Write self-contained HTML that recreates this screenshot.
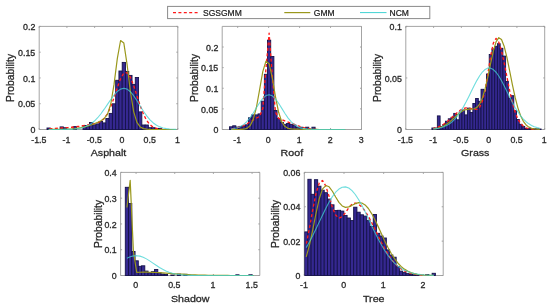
<!DOCTYPE html>
<html lang="en"><head><meta charset="utf-8"><title>Probability histograms</title>
<style>html,body{margin:0;padding:0;background:#fff;}svg{display:block;}</style></head>
<body>
<svg width="550" height="308" viewBox="0 0 550 308" font-family="'Liberation Sans', sans-serif">
<rect width="550" height="308" fill="#fff"/>
<g id="ax1">
<clipPath id="c0"><rect x="39.2" y="25.4" width="138.6" height="104.85"/></clipPath>
<path d="M39.2 26.4H177.8V129.5H39.2ZM39.2 129.5v-1.5M39.2 26.4v1.5M66.92 129.5v-1.5M66.92 26.4v1.5M94.64 129.5v-1.5M94.64 26.4v1.5M122.36 129.5v-1.5M122.36 26.4v1.5M150.08 129.5v-1.5M150.08 26.4v1.5M177.8 129.5v-1.5M177.8 26.4v1.5M39.2 129.5h1.5M177.8 129.5h-1.5M39.2 103.73h1.5M177.8 103.73h-1.5M39.2 77.95h1.5M177.8 77.95h-1.5M39.2 52.18h1.5M177.8 52.18h-1.5M39.2 26.4h1.5M177.8 26.4h-1.5" fill="none" stroke="#9a9a9a" stroke-width="0.9"/>
<g fill="#352890" stroke="#15124a" stroke-width="0.9" clip-path="url(#c0)">
<rect x="47" y="128" width="3.27" height="1.5"/>
<rect x="60.08" y="126.9" width="3.27" height="2.6"/>
<rect x="63.35" y="127.75" width="3.27" height="1.75"/>
<rect x="73.16" y="126.6" width="3.27" height="2.9"/>
<rect x="82.97" y="125.5" width="3.27" height="4"/>
<rect x="86.24" y="126.6" width="3.27" height="2.9"/>
<rect x="89.51" y="122.5" width="3.27" height="7"/>
<rect x="92.78" y="124.8" width="3.27" height="4.7"/>
<rect x="96.05" y="123.9" width="3.27" height="5.6"/>
<rect x="99.32" y="121.5" width="3.27" height="8"/>
<rect x="102.59" y="122.9" width="3.27" height="6.6"/>
<rect x="105.86" y="118.5" width="3.27" height="11"/>
<rect x="109.13" y="113.4" width="3.27" height="16.1"/>
<rect x="112.4" y="103.8" width="3.27" height="25.7"/>
<rect x="115.67" y="80.3" width="3.27" height="49.2"/>
<rect x="118.94" y="71" width="3.27" height="58.5"/>
<rect x="122.21" y="62.4" width="3.27" height="67.1"/>
<rect x="125.48" y="71.4" width="3.27" height="58.1"/>
<rect x="128.75" y="75.4" width="3.27" height="54.1"/>
<rect x="132.02" y="84.4" width="3.27" height="45.1"/>
<rect x="135.29" y="77.5" width="3.27" height="52"/>
<rect x="138.56" y="111.9" width="3.27" height="17.6"/>
<rect x="141.83" y="125" width="3.27" height="4.5"/>
<rect x="145.1" y="125" width="3.27" height="4.5"/>
<rect x="148.37" y="127.7" width="3.27" height="1.8"/>
<rect x="151.64" y="127.7" width="3.27" height="1.8"/>
<rect x="154.91" y="128.4" width="3.27" height="1.1"/>
<rect x="158.18" y="128.4" width="3.27" height="1.1"/>
</g>
<g fill="none" stroke-linejoin="round" clip-path="url(#c0)">
<polyline points="48.63,128.76 51.91,128.6 55.17,128.42 58.45,128.23 61.72,128.03 64.98,127.82 68.25,127.57 71.53,127.28 74.8,126.93 78.06,126.51 81.34,126.02 84.6,125.48 87.88,124.91 91.15,124.33 94.41,123.67 97.69,122.76 100.95,121.21 104.22,118.44 107.5,113.78 110.77,106.8 114.03,97.69 117.31,87.63 120.58,78.68 123.84,73.18 127.11,72.74 130.38,77.26 133.66,85.53 136.93,95.7 140.19,105.77 143.47,114.29 146.74,120.6 150,124.75 153.28,127.18 156.55,128.47 159.81,129.08 163.08,129.34" stroke="#ff1a1a" stroke-width="1.35" stroke-dasharray="3 2.4" stroke-dashoffset="4.59"/>
<polyline points="48.63,129.48 51.91,129.47 55.17,129.45 58.45,129.41 61.72,129.35 64.98,129.25 68.25,129.11 71.53,128.9 74.8,128.6 78.06,128.18 81.34,127.63 84.6,126.92 87.88,126.02 91.15,124.95 94.41,123.7 97.69,122.28 100.95,120.68 104.22,118.48 107.5,114.11 110.77,103.98 114.03,84.45 117.31,58.7 120.58,40.5 123.84,43.09 127.11,64.71 130.38,91.52 133.66,111.58 136.93,122.34 140.19,126.91 143.47,128.61 146.74,129.21 150,129.41 153.28,129.48 156.55,129.49 159.81,129.5 163.08,129.5 166.36,129.5 169.62,129.5 172.89,129.5 176.16,129.5" stroke="#9a981c" stroke-width="1.2"/>
<polyline points="48.63,129.5 51.91,129.5 55.17,129.49 58.45,129.48 61.72,129.46 64.98,129.42 68.25,129.35 71.53,129.22 74.8,128.98 78.06,128.59 81.34,127.97 84.6,127.01 87.88,125.61 91.15,123.66 94.41,121.04 97.69,117.73 100.95,113.74 104.22,109.19 107.5,104.33 110.77,99.49 114.03,95.06 117.31,91.49 120.58,89.14 123.84,88.26 127.11,89.1 130.38,91.7 133.66,95.72 136.93,100.67 140.19,106 143.47,111.21 146.74,115.9 150,119.85 153.28,122.95 156.55,125.26 159.81,126.88 163.08,127.95 166.36,128.63 169.62,129.03 172.89,129.26 176.16,129.38" stroke="#40d2d2" stroke-width="1.1" stroke-opacity="0.76"/>
</g>
<g font-size="8.85" fill="#2a2a2a" stroke="#2a2a2a" stroke-width="0.3">
<text transform="translate(38.8 142.55) scale(1 1.08)" text-anchor="middle">-1.5</text>
<text transform="translate(66.52 142.55) scale(1 1.08)" text-anchor="middle">-1</text>
<text transform="translate(94.24 142.55) scale(1 1.08)" text-anchor="middle">-0.5</text>
<text transform="translate(121.96 142.55) scale(1 1.08)" text-anchor="middle">0</text>
<text transform="translate(149.68 142.55) scale(1 1.08)" text-anchor="middle">0.5</text>
<text transform="translate(177.4 142.55) scale(1 1.08)" text-anchor="middle">1</text>
<text transform="translate(35.3 133.2) scale(1 1.08)" text-anchor="end">0</text>
<text transform="translate(35.3 107.43) scale(1 1.08)" text-anchor="end">0.05</text>
<text transform="translate(35.3 81.65) scale(1 1.08)" text-anchor="end">0.1</text>
<text transform="translate(35.3 55.88) scale(1 1.08)" text-anchor="end">0.15</text>
<text transform="translate(35.3 30.1) scale(1 1.08)" text-anchor="end">0.2</text>
</g>
<g font-size="10.3" fill="#2a2a2a" stroke="#2a2a2a" stroke-width="0.3" text-anchor="middle">
<text transform="translate(108.5 156.3) scale(1.035 0.96)">Asphalt</text>
<text transform="translate(13.8 77.95) rotate(-90)">Probability</text>
</g>
</g>
<g id="ax2">
<clipPath id="c1"><rect x="222.2" y="25.4" width="139.3" height="104.85"/></clipPath>
<path d="M222.2 26.4H361.5V129.5H222.2ZM237.68 129.5v-1.5M237.68 26.4v1.5M268.63 129.5v-1.5M268.63 26.4v1.5M299.59 129.5v-1.5M299.59 26.4v1.5M330.54 129.5v-1.5M330.54 26.4v1.5M361.5 129.5v-1.5M361.5 26.4v1.5M222.2 129.5h1.5M361.5 129.5h-1.5M222.2 108.88h1.5M361.5 108.88h-1.5M222.2 88.26h1.5M361.5 88.26h-1.5M222.2 67.64h1.5M361.5 67.64h-1.5M222.2 47.02h1.5M361.5 47.02h-1.5" fill="none" stroke="#9a9a9a" stroke-width="0.9"/>
<g fill="#352890" stroke="#15124a" stroke-width="0.9" clip-path="url(#c1)">
<rect x="229.5" y="126.8" width="3.17" height="2.7"/>
<rect x="232.67" y="125.8" width="3.17" height="3.7"/>
<rect x="235.84" y="127.1" width="3.17" height="2.4"/>
<rect x="239.01" y="126.4" width="3.17" height="3.1"/>
<rect x="242.18" y="125.8" width="3.17" height="3.7"/>
<rect x="245.35" y="124.8" width="3.17" height="4.7"/>
<rect x="248.52" y="117.8" width="3.17" height="11.7"/>
<rect x="251.69" y="114.9" width="3.17" height="14.6"/>
<rect x="254.86" y="114.9" width="3.17" height="14.6"/>
<rect x="258.03" y="113.9" width="3.17" height="15.6"/>
<rect x="261.2" y="101.2" width="3.17" height="28.3"/>
<rect x="264.37" y="74.3" width="3.17" height="55.2"/>
<rect x="267.54" y="40.2" width="3.17" height="89.3"/>
<rect x="270.71" y="56.5" width="3.17" height="73"/>
<rect x="273.88" y="110.5" width="3.17" height="19"/>
<rect x="277.05" y="118.6" width="3.17" height="10.9"/>
<rect x="280.22" y="122.4" width="3.17" height="7.1"/>
<rect x="283.39" y="124.3" width="3.17" height="5.2"/>
<rect x="286.56" y="123.5" width="3.17" height="6"/>
<rect x="289.73" y="124.3" width="3.17" height="5.2"/>
<rect x="292.9" y="125.1" width="3.17" height="4.4"/>
<rect x="296.07" y="127.2" width="3.17" height="2.3"/>
<rect x="299.24" y="127.2" width="3.17" height="2.3"/>
<rect x="305.58" y="127.2" width="3.17" height="2.3"/>
<rect x="311.92" y="127.2" width="3.17" height="2.3"/>
</g>
<g fill="none" stroke-linejoin="round" clip-path="url(#c1)">
<polyline points="231.09,128.84 234.25,128.37 237.43,127.67 240.59,126.68 243.76,125.37 246.94,123.75 250.1,121.91 253.28,119.98 256.44,118.15 259.62,116.35 262.78,108.48 265.95,68.86 269.12,33.2 272.3,76.26 275.46,112.01 278.63,118.36 281.81,119.78 284.98,120.96 288.14,122.11 291.31,123.28 294.49,124.47 297.65,125.65 300.82,126.75 304,127.68 307.16,128.39 310.33,128.88 313.5,129.18 316.68,129.35" stroke="#ff1a1a" stroke-width="1.35" stroke-dasharray="3 2.4" stroke-dashoffset="4.83"/>
<polyline points="231.09,129.5 234.25,129.5 237.43,129.49 240.59,129.44 243.76,129.22 246.94,128.37 250.1,125.75 253.28,119.38 256.44,107.26 259.62,89.72 262.78,71.66 265.95,61.09 269.12,63.69 272.3,77.96 275.46,96.58 278.63,112.26 281.81,121.97 284.98,126.6 288.14,128.36 291.31,128.92 294.49,129.1 297.65,129.19 300.82,129.26 304,129.32 307.16,129.37 310.33,129.42 313.5,129.45 316.68,129.47 319.85,129.48 323.01,129.49 326.19,129.49 329.36,129.5 332.52,129.5 335.69,129.5 338.87,129.5 342.03,129.5 345.2,129.5" stroke="#9a981c" stroke-width="1.2"/>
<polyline points="231.09,129.05 234.25,128.59 237.43,127.78 240.59,126.45 243.76,124.39 246.94,121.47 250.1,117.61 253.28,112.94 256.44,107.79 259.62,102.73 262.78,98.43 265.95,95.58 269.12,94.66 272.3,95.82 275.46,98.87 278.63,103.28 281.81,108.39 284.98,113.51 288.14,118.1 291.31,121.85 294.49,124.67 297.65,126.63 300.82,127.9 304,128.66 307.16,129.08 310.33,129.31 313.5,129.42 316.68,129.46 319.85,129.49 323.01,129.5 326.19,129.5 329.36,129.5 332.52,129.5 335.69,129.5 338.87,129.5 342.03,129.5 345.2,129.5" stroke="#40d2d2" stroke-width="1.1" stroke-opacity="0.76"/>
</g>
<g font-size="8.85" fill="#2a2a2a" stroke="#2a2a2a" stroke-width="0.3">
<text transform="translate(237.28 142.55) scale(1 1.08)" text-anchor="middle">-1</text>
<text transform="translate(268.23 142.55) scale(1 1.08)" text-anchor="middle">0</text>
<text transform="translate(299.19 142.55) scale(1 1.08)" text-anchor="middle">1</text>
<text transform="translate(330.14 142.55) scale(1 1.08)" text-anchor="middle">2</text>
<text transform="translate(361.1 142.55) scale(1 1.08)" text-anchor="middle">3</text>
<text transform="translate(218.3 133.2) scale(1 1.08)" text-anchor="end">0</text>
<text transform="translate(218.3 112.58) scale(1 1.08)" text-anchor="end">0.05</text>
<text transform="translate(218.3 91.96) scale(1 1.08)" text-anchor="end">0.1</text>
<text transform="translate(218.3 71.34) scale(1 1.08)" text-anchor="end">0.15</text>
<text transform="translate(218.3 50.72) scale(1 1.08)" text-anchor="end">0.2</text>
</g>
<g font-size="10.3" fill="#2a2a2a" stroke="#2a2a2a" stroke-width="0.3" text-anchor="middle">
<text transform="translate(291.85 156.3) scale(1.035 0.96)">Roof</text>
<text transform="translate(197.5 77.95) rotate(-90)">Probability</text>
</g>
</g>
<g id="ax3">
<clipPath id="c2"><rect x="405.8" y="25.4" width="138.9" height="104.85"/></clipPath>
<path d="M405.8 26.4H544.7V129.5H405.8ZM405.8 129.5v-1.5M405.8 26.4v1.5M433.58 129.5v-1.5M433.58 26.4v1.5M461.36 129.5v-1.5M461.36 26.4v1.5M489.14 129.5v-1.5M489.14 26.4v1.5M516.92 129.5v-1.5M516.92 26.4v1.5M544.7 129.5v-1.5M544.7 26.4v1.5M405.8 129.5h1.5M544.7 129.5h-1.5M405.8 77.95h1.5M544.7 77.95h-1.5M405.8 26.4h1.5M544.7 26.4h-1.5" fill="none" stroke="#9a9a9a" stroke-width="0.9"/>
<g fill="#352890" stroke="#15124a" stroke-width="0.9" clip-path="url(#c2)">
<rect x="431.9" y="128" width="2.73" height="1.5"/>
<rect x="434.63" y="128" width="2.73" height="1.5"/>
<rect x="437.36" y="115.9" width="2.73" height="13.6"/>
<rect x="440.09" y="126.6" width="2.73" height="2.9"/>
<rect x="442.82" y="124.6" width="2.73" height="4.9"/>
<rect x="445.55" y="121.2" width="2.73" height="8.3"/>
<rect x="448.28" y="118.8" width="2.73" height="10.7"/>
<rect x="451.01" y="117.3" width="2.73" height="12.2"/>
<rect x="453.74" y="113.4" width="2.73" height="16.1"/>
<rect x="456.47" y="119.8" width="2.73" height="9.7"/>
<rect x="459.2" y="112" width="2.73" height="17.5"/>
<rect x="461.93" y="110" width="2.73" height="19.5"/>
<rect x="464.66" y="114.9" width="2.73" height="14.6"/>
<rect x="467.39" y="108.1" width="2.73" height="21.4"/>
<rect x="470.12" y="112.5" width="2.73" height="17"/>
<rect x="472.85" y="103.5" width="2.73" height="26"/>
<rect x="475.58" y="98.5" width="2.73" height="31"/>
<rect x="478.31" y="101.3" width="2.73" height="28.2"/>
<rect x="481.04" y="89.3" width="2.73" height="40.2"/>
<rect x="483.77" y="91.9" width="2.73" height="37.6"/>
<rect x="486.5" y="74" width="2.73" height="55.5"/>
<rect x="489.23" y="54.5" width="2.73" height="75"/>
<rect x="491.96" y="48.9" width="2.73" height="80.6"/>
<rect x="494.69" y="46.3" width="2.73" height="83.2"/>
<rect x="497.42" y="43.7" width="2.73" height="85.8"/>
<rect x="500.15" y="48.3" width="2.73" height="81.2"/>
<rect x="502.88" y="56.1" width="2.73" height="73.4"/>
<rect x="505.61" y="81.5" width="2.73" height="48"/>
<rect x="508.34" y="98.1" width="2.73" height="31.4"/>
<rect x="511.07" y="95.7" width="2.73" height="33.8"/>
<rect x="513.8" y="110.7" width="2.73" height="18.8"/>
<rect x="516.53" y="119.5" width="2.73" height="10"/>
<rect x="519.26" y="124.3" width="2.73" height="5.2"/>
<rect x="521.99" y="126.4" width="2.73" height="3.1"/>
<rect x="524.72" y="128.5" width="2.73" height="1"/>
<rect x="527.45" y="128.7" width="2.73" height="0.8"/>
<rect x="530.18" y="128.7" width="2.73" height="0.8"/>
<rect x="532.91" y="128.9" width="2.73" height="0.6"/>
<rect x="535.64" y="128.9" width="2.73" height="0.6"/>
<rect x="538.37" y="129" width="2.73" height="0.5"/>
</g>
<g fill="none" stroke-linejoin="round" clip-path="url(#c2)">
<polyline points="433.26,128.35 436,127.68 438.72,126.74 441.45,125.46 444.19,123.83 446.91,121.82 449.64,119.51 452.38,116.98 455.1,114.42 457.83,112.01 460.56,110 463.29,108.57 466.02,107.86 468.75,107.92 471.48,108.58 474.21,109.38 476.94,109.4 479.67,107.2 482.4,101.07 485.13,89.79 487.86,73.92 490.59,56.61 493.32,43.09 496.05,38.44 498.78,42.13 501.51,50.85 504.25,63.15 506.97,77.08 509.7,90.74 512.43,102.68 515.16,112.13 517.89,118.98 520.62,123.54 523.36,126.34 526.09,127.93 528.81,128.77 531.54,129.19 534.27,129.37" stroke="#ff1a1a" stroke-width="1.35" stroke-dasharray="3 2.4" stroke-dashoffset="0.69"/>
<polyline points="433.26,128.98 436,128.58 438.72,127.96 441.45,127.04 444.19,125.75 446.91,124.05 449.64,121.96 452.38,119.54 455.1,116.96 457.83,114.43 460.56,112.22 463.29,110.55 466.02,109.55 468.75,109.16 471.48,109.08 474.21,108.76 476.94,107.37 479.67,104.02 482.4,97.91 485.13,88.71 487.86,76.85 490.59,63.63 493.32,51.15 496.05,41.82 498.78,37.67 501.51,39.51 504.25,46.57 506.97,57.66 509.7,71.04 512.43,84.81 515.16,97.41 517.89,107.86 520.62,115.8 523.36,121.35 526.09,124.95 528.81,127.11 531.54,128.32 534.27,128.96 537,129.26 539.74,129.4" stroke="#9a981c" stroke-width="1.2"/>
<polyline points="433.26,128.96 436,128.65 438.72,128.19 441.45,127.54 444.19,126.62 446.91,125.37 449.64,123.7 452.38,121.56 455.1,118.85 457.83,115.55 460.56,111.63 463.29,107.12 466.02,102.1 468.75,96.7 471.48,91.11 474.21,85.58 476.94,80.36 479.67,75.76 482.4,72.04 485.13,69.43 487.86,68.1 490.59,68.15 493.32,69.56 496.05,72.25 498.78,76.04 501.51,80.69 504.25,85.94 506.97,91.48 509.7,97.07 512.43,102.45 515.16,107.44 517.89,111.91 520.62,115.79 523.36,119.05 526.09,121.71 528.81,123.83 531.54,125.46 534.27,126.69 537,127.59 539.74,128.23" stroke="#40d2d2" stroke-width="1.1" stroke-opacity="0.76"/>
</g>
<g font-size="8.85" fill="#2a2a2a" stroke="#2a2a2a" stroke-width="0.3">
<text transform="translate(405.4 142.55) scale(1 1.08)" text-anchor="middle">-1.5</text>
<text transform="translate(433.18 142.55) scale(1 1.08)" text-anchor="middle">-1</text>
<text transform="translate(460.96 142.55) scale(1 1.08)" text-anchor="middle">-0.5</text>
<text transform="translate(488.74 142.55) scale(1 1.08)" text-anchor="middle">0</text>
<text transform="translate(516.52 142.55) scale(1 1.08)" text-anchor="middle">0.5</text>
<text transform="translate(544.3 142.55) scale(1 1.08)" text-anchor="middle">1</text>
<text transform="translate(401.9 133.2) scale(1 1.08)" text-anchor="end">0</text>
<text transform="translate(401.9 81.65) scale(1 1.08)" text-anchor="end">0.05</text>
<text transform="translate(401.9 30.1) scale(1 1.08)" text-anchor="end">0.1</text>
</g>
<g font-size="10.3" fill="#2a2a2a" stroke="#2a2a2a" stroke-width="0.3" text-anchor="middle">
<text transform="translate(475.25 156.3) scale(1.035 0.96)">Grass</text>
<text transform="translate(380.6 77.95) rotate(-90)">Probability</text>
</g>
</g>
<g id="ax4">
<clipPath id="c3"><rect x="120.6" y="171.4" width="139.2" height="104.85"/></clipPath>
<path d="M120.6 172.4H259.8V275.5H120.6ZM136.07 275.5v-1.5M136.07 172.4v1.5M174.73 275.5v-1.5M174.73 172.4v1.5M213.4 275.5v-1.5M213.4 172.4v1.5M252.07 275.5v-1.5M252.07 172.4v1.5M120.6 275.5h1.5M259.8 275.5h-1.5M120.6 249.72h1.5M259.8 249.72h-1.5M120.6 223.95h1.5M259.8 223.95h-1.5M120.6 198.18h1.5M259.8 198.18h-1.5M120.6 172.4h1.5M259.8 172.4h-1.5" fill="none" stroke="#9a9a9a" stroke-width="0.9"/>
<g fill="#352890" stroke="#15124a" stroke-width="0.9" clip-path="url(#c3)">
<rect x="125.3" y="187.3" width="3.25" height="88.2"/>
<rect x="128.55" y="203.5" width="3.25" height="72"/>
<rect x="131.8" y="251.5" width="3.25" height="24"/>
<rect x="135.05" y="260.8" width="3.25" height="14.7"/>
<rect x="138.3" y="266.3" width="3.25" height="9.2"/>
<rect x="141.55" y="265.8" width="3.25" height="9.7"/>
<rect x="144.8" y="271.1" width="3.25" height="4.4"/>
<rect x="148.05" y="272.7" width="3.25" height="2.8"/>
<rect x="151.3" y="271.7" width="3.25" height="3.8"/>
<rect x="154.55" y="269.5" width="3.25" height="6"/>
<rect x="157.8" y="272.7" width="3.25" height="2.8"/>
<rect x="161.05" y="274" width="3.25" height="1.5"/>
<rect x="164.3" y="274.5" width="3.25" height="1"/>
<rect x="170.8" y="275" width="3.25" height="0.5"/>
<rect x="177.3" y="274.1" width="3.25" height="1.4"/>
<rect x="183.8" y="274.3" width="3.25" height="1.2"/>
<rect x="235.8" y="274.8" width="3.25" height="0.7"/>
<rect x="248.8" y="274.8" width="3.25" height="0.7"/>
</g>
<g fill="none" stroke-linejoin="round" clip-path="url(#c3)">
<polyline points="126.92,207.45 130.18,180.39 133.43,251.53 136.68,272.28 139.93,272.23 143.18,272.2 146.43,272.22 149.68,272.27 152.93,272.37 156.18,272.51 159.43,272.68 162.68,272.88 165.93,273.09 169.18,273.32 172.43,273.56 175.68,273.79 178.93,274.01 182.18,274.22 185.43,274.42 188.68,274.6 191.93,274.76 195.18,274.9 198.43,275.02 201.68,275.12 204.93,275.2 208.18,275.27 211.43,275.33 214.68,275.37 217.93,275.4 221.18,275.43 224.43,275.45 227.68,275.46 230.93,275.48 234.18,275.48 237.43,275.49 240.68,275.49 243.93,275.49 247.18,275.5 250.43,275.5 253.68,275.5" stroke="#9a981c" stroke-width="1.2"/>
<polyline points="126.92,258.21 130.18,256.76 133.43,255.88 136.68,255.67 139.93,256.14 143.18,257.24 146.43,258.88 149.68,260.88 152.93,263.09 156.18,265.32 159.43,267.44 162.68,269.34 165.93,270.95 169.18,272.25 172.43,273.26 175.68,274.01 178.93,274.54 182.18,274.91 185.43,275.14 188.68,275.29 191.93,275.39 195.18,275.44 198.43,275.47 201.68,275.48 204.93,275.49 208.18,275.5 211.43,275.5 214.68,275.5 217.93,275.5 221.18,275.5 224.43,275.5 227.68,275.5 230.93,275.5 234.18,275.5 237.43,275.5 240.68,275.5 243.93,275.5 247.18,275.5 250.43,275.5 253.68,275.5" stroke="#40d2d2" stroke-width="1.1" stroke-opacity="0.76"/>
</g>
<g font-size="8.85" fill="#2a2a2a" stroke="#2a2a2a" stroke-width="0.3">
<text transform="translate(135.67 288.25) scale(1 1.08)" text-anchor="middle">0</text>
<text transform="translate(174.33 288.25) scale(1 1.08)" text-anchor="middle">0.5</text>
<text transform="translate(213 288.25) scale(1 1.08)" text-anchor="middle">1</text>
<text transform="translate(251.67 288.25) scale(1 1.08)" text-anchor="middle">1.5</text>
<text transform="translate(116.7 279.2) scale(1 1.08)" text-anchor="end">0</text>
<text transform="translate(116.7 253.42) scale(1 1.08)" text-anchor="end">0.1</text>
<text transform="translate(116.7 227.65) scale(1 1.08)" text-anchor="end">0.2</text>
<text transform="translate(116.7 201.88) scale(1 1.08)" text-anchor="end">0.3</text>
<text transform="translate(116.7 176.1) scale(1 1.08)" text-anchor="end">0.4</text>
</g>
<g font-size="10.3" fill="#2a2a2a" stroke="#2a2a2a" stroke-width="0.3" text-anchor="middle">
<text transform="translate(190.2 302.3) scale(1.035 0.96)">Shadow</text>
<text transform="translate(101.7 223.95) rotate(-90)">Probability</text>
</g>
</g>
<g id="ax5">
<clipPath id="c4"><rect x="304.3" y="171.4" width="138.9" height="104.85"/></clipPath>
<path d="M304.3 172.4H443.2V275.5H304.3ZM304.3 275.5v-1.5M304.3 172.4v1.5M343.99 275.5v-1.5M343.99 172.4v1.5M383.67 275.5v-1.5M383.67 172.4v1.5M423.36 275.5v-1.5M423.36 172.4v1.5M304.3 275.5h1.5M443.2 275.5h-1.5M304.3 241.13h1.5M443.2 241.13h-1.5M304.3 206.77h1.5M443.2 206.77h-1.5M304.3 172.4h1.5M443.2 172.4h-1.5" fill="none" stroke="#9a9a9a" stroke-width="0.9"/>
<g fill="#352890" stroke="#15124a" stroke-width="0.9" clip-path="url(#c4)">
<rect x="304.6" y="231.9" width="3.27" height="43.6"/>
<rect x="307.87" y="179.3" width="3.27" height="96.2"/>
<rect x="311.14" y="194.3" width="3.27" height="81.2"/>
<rect x="314.41" y="179.7" width="3.27" height="95.8"/>
<rect x="317.68" y="186.2" width="3.27" height="89.3"/>
<rect x="320.95" y="190.2" width="3.27" height="85.3"/>
<rect x="324.22" y="192.7" width="3.27" height="82.8"/>
<rect x="327.49" y="199.1" width="3.27" height="76.4"/>
<rect x="330.76" y="204.8" width="3.27" height="70.7"/>
<rect x="334.03" y="210.5" width="3.27" height="65"/>
<rect x="337.3" y="210.3" width="3.27" height="65.2"/>
<rect x="340.57" y="211.1" width="3.27" height="64.4"/>
<rect x="343.84" y="215.4" width="3.27" height="60.1"/>
<rect x="347.11" y="218" width="3.27" height="57.5"/>
<rect x="350.38" y="220.6" width="3.27" height="54.9"/>
<rect x="353.65" y="207.2" width="3.27" height="68.3"/>
<rect x="356.92" y="212.2" width="3.27" height="63.3"/>
<rect x="360.19" y="214.8" width="3.27" height="60.7"/>
<rect x="363.46" y="216.1" width="3.27" height="59.4"/>
<rect x="366.73" y="220.6" width="3.27" height="54.9"/>
<rect x="370" y="226.5" width="3.27" height="49"/>
<rect x="373.27" y="214.5" width="3.27" height="61"/>
<rect x="376.54" y="233.3" width="3.27" height="42.2"/>
<rect x="379.81" y="236" width="3.27" height="39.5"/>
<rect x="383.08" y="238" width="3.27" height="37.5"/>
<rect x="386.35" y="249.9" width="3.27" height="25.6"/>
<rect x="389.62" y="255" width="3.27" height="20.5"/>
<rect x="392.89" y="257.2" width="3.27" height="18.3"/>
<rect x="396.16" y="266.7" width="3.27" height="8.8"/>
<rect x="399.43" y="271.1" width="3.27" height="4.4"/>
<rect x="402.7" y="272.6" width="3.27" height="2.9"/>
<rect x="405.97" y="273.6" width="3.27" height="1.9"/>
<rect x="409.24" y="274.5" width="3.27" height="1"/>
<rect x="412.51" y="274.8" width="3.27" height="0.7"/>
<rect x="415.78" y="275.1" width="3.27" height="0.4"/>
<rect x="425.59" y="274.5" width="3.27" height="1"/>
<rect x="432.13" y="273.3" width="3.27" height="2.2"/>
</g>
<g fill="none" stroke-linejoin="round" clip-path="url(#c4)">
<polyline points="306.24,244.57 309.5,227.85 312.78,209.51 316.05,193.2 319.31,182.78 322.59,180.57 325.86,186.13 329.12,196.45 332.4,207.29 335.67,215.09 338.94,218.15 342.21,216.76 345.48,212.6 348.75,207.78 352.02,204.19 355.29,203.12 358.56,204.24 361.83,206.91 365.1,211.03 368.37,216.35 371.63,222.52 374.91,229.18 378.18,235.97 381.45,242.57 384.72,248.72 387.99,254.24 391.25,259.03 394.53,263.04 397.8,266.31 401.07,268.87 404.34,270.84 407.61,272.3 410.88,273.36 414.15,274.1 417.42,274.6 420.69,274.94 423.96,275.16 427.23,275.3" stroke="#ff1a1a" stroke-width="1.35" stroke-dasharray="3 2.4" stroke-dashoffset="4.53"/>
<polyline points="306.24,256.9 309.5,244.81 312.78,229.56 316.05,213.13 319.31,198.56 322.59,188.93 325.86,185.56 329.12,186.81 332.4,191.25 335.67,197.04 338.94,202.35 342.21,205.93 345.48,207.34 348.75,206.88 352.02,205.34 355.29,203.66 358.56,202.68 361.83,203 365.1,204.93 368.37,208.51 371.63,213.55 374.91,219.73 378.18,226.63 381.45,233.82 384.72,240.9 387.99,247.55 391.25,253.53 394.53,258.69 397.8,262.98 401.07,266.43 404.34,269.1 407.61,271.11 410.88,272.57 414.15,273.59 417.42,274.29 420.69,274.76 423.96,275.05 427.23,275.24 430.5,275.35 433.76,275.42" stroke="#9a981c" stroke-width="1.2"/>
<polyline points="306.24,247.64 309.5,241.84 312.78,235.52 316.05,228.8 319.31,221.86 322.59,214.92 325.86,208.22 329.12,202.04 332.4,196.62 335.67,192.21 338.94,189.03 342.21,187.23 345.48,186.89 348.75,188.04 352.02,190.61 355.29,194.48 358.56,199.47 361.83,205.34 365.1,211.84 368.37,218.7 371.63,225.67 374.91,232.51 378.18,239.04 381.45,245.08 384.72,250.55 387.99,255.38 391.25,259.55 394.53,263.06 397.8,265.96 401.07,268.31 404.34,270.17 407.61,271.61 410.88,272.71 414.15,273.54 417.42,274.14 420.69,274.57 423.96,274.88 427.23,275.09 430.5,275.23 433.76,275.33" stroke="#40d2d2" stroke-width="1.1" stroke-opacity="0.76"/>
</g>
<g font-size="8.85" fill="#2a2a2a" stroke="#2a2a2a" stroke-width="0.3">
<text transform="translate(303.9 288.25) scale(1 1.08)" text-anchor="middle">-1</text>
<text transform="translate(343.59 288.25) scale(1 1.08)" text-anchor="middle">0</text>
<text transform="translate(383.27 288.25) scale(1 1.08)" text-anchor="middle">1</text>
<text transform="translate(422.96 288.25) scale(1 1.08)" text-anchor="middle">2</text>
<text transform="translate(300.4 279.2) scale(1 1.08)" text-anchor="end">0</text>
<text transform="translate(300.4 244.83) scale(1 1.08)" text-anchor="end">0.02</text>
<text transform="translate(300.4 210.47) scale(1 1.08)" text-anchor="end">0.04</text>
<text transform="translate(300.4 176.1) scale(1 1.08)" text-anchor="end">0.06</text>
</g>
<g font-size="10.3" fill="#2a2a2a" stroke="#2a2a2a" stroke-width="0.3" text-anchor="middle">
<text transform="translate(373.75 302.3) scale(1.035 0.96)">Tree</text>
<text transform="translate(279.1 223.95) rotate(-90)">Probability</text>
</g>
</g>
<g id="legend">
<rect x="167.6" y="6.4" width="262.2" height="12.2" fill="#fff" stroke="#8a8a8a" stroke-width="1"/>
<line x1="173" y1="12.6" x2="198" y2="12.6" stroke="#ff1a1a" stroke-width="1.35" stroke-dasharray="3 2.4"/>
<line x1="284.3" y1="12.6" x2="310.3" y2="12.6" stroke="#9a981c" stroke-width="1.2"/>
<line x1="360" y1="12.6" x2="386.5" y2="12.6" stroke="#40d2d2" stroke-width="1"/>
<g font-size="8.5" fill="#1c1c1c" stroke="#1c1c1c" stroke-width="0.22">
<text x="203" y="15.6">SGSGMM</text>
<text x="313.8" y="15.6">GMM</text>
<text x="389.6" y="15.6">NCM</text>
</g></g>
</svg>
</body></html>
